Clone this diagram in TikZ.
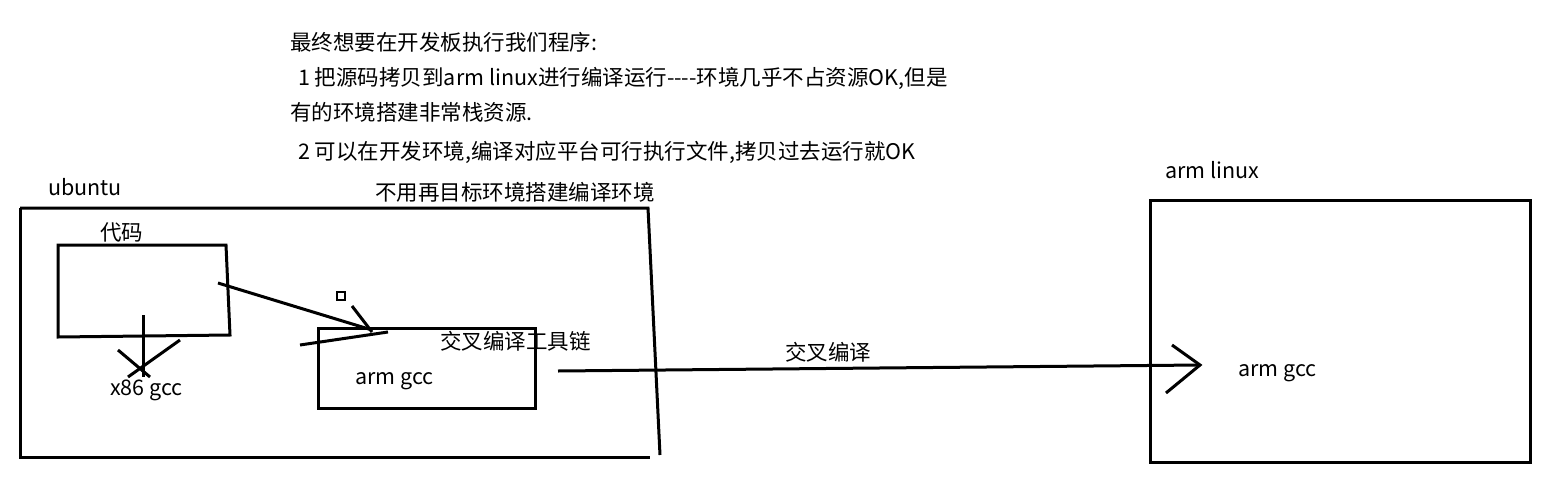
\documentclass[tikz,border=0pt]{standalone}
\usepackage{fontspec}
\setmainfont{Noto Sans CJK SC}
\begin{document}
\begin{tikzpicture}[x=1pt,y=-1pt,
  pen/.style={line width=3pt,black},
  lbl/.style={anchor=west,inner sep=0pt,font=\fontsize{21.5}{25}\selectfont}]
\useasboundingbox[fill=white] (0,0) rectangle (1556,485);
\node[lbl] (t1) at (290,42) {最终想要在开发板执行我们程序:};
\node[lbl] (t2) at (298,78) {1 把源码拷贝到arm linux进行编译运行{-}{-}{-}{-}环境几乎不占资源OK,但是};
\node[lbl] (t3) at (290,112) {有的环境搭建非常栈资源.};
\node[lbl] (t4) at (298,152) {2 可以在开发环境,编译对应平台可行执行文件,拷贝过去运行就OK};
\node[lbl] (t5) at (375,192) {不用再目标环境搭建编译环境};
\node[lbl] (ub) at (48,187) {ubuntu};
\node[lbl] (al) at (1165,170) {arm linux};
\node[lbl] (dm) at (100,232) {代码};
\node[lbl] (x86) at (110,390) {x86 gcc};
\node[lbl] (ag1) at (355,381) {arm gcc};
\node[lbl] (tc) at (440,341) {交叉编译工具链};
\node[lbl] (jc) at (785,352) {交叉编译};
\node[lbl] (ag2) at (1238,373) {arm gcc};
% ubuntu box
\draw[pen] (20,208) -- (648,208) -- (660,455);
\draw[pen] (20,208) -- (20,457) -- (650,457);
% code box
\draw[pen] (58,245) -- (226,245) -- (230,335) -- (58,337) -- cycle;
\coordinate (c1) at (218,283);
\coordinate (c2) at (372,330);
\draw[pen] (c1) -- (c2);
\draw[pen] (352,306) -- (372,332);
\draw[pen] (300,345) -- (388,332);
\draw[line width=2pt] (337,292) rectangle (345,300);
% X
\draw[pen] (143,315) -- (143,377);
\draw[pen] (118,350) -- (150,377);
\draw[pen] (180,340) -- (128,377);
% arm gcc box
\draw[pen] (318,328) rectangle (535,408);
% cross-compile arrow
\coordinate (a1) at (558,371);
\coordinate (a2) at (1200,365);
\draw[pen] (a1) -- (a2);
\draw[pen] (1172,345) -- (1200,365) -- (1166,393);
% arm linux box
\draw[pen] (1150,200) rectangle (1530,462);
\end{tikzpicture}
\end{document}
